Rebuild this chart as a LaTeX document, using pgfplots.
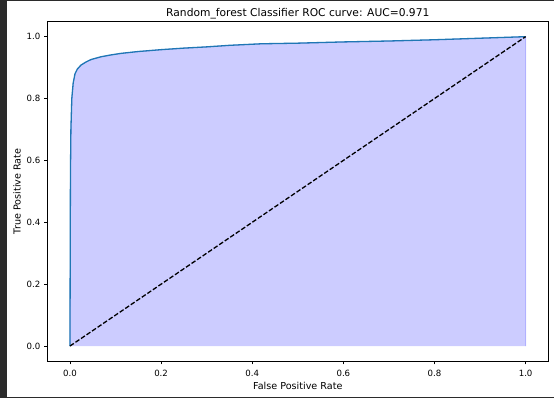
\documentclass[border=0pt]{standalone}
\usepackage{fontspec}
\setmainfont{DejaVu Sans}
\usepackage{pgfplots}
\pgfplotsset{compat=1.18}
\definecolor{mplblue}{HTML}{1F77B4}
\definecolor{darkframe}{HTML}{2B2B2B}
\begin{document}
\begin{tikzpicture}[x=1bp,y=1bp]
\fill[darkframe] (0,0) rectangle (554,398);
\fill[white] (7.3,1.3) rectangle (554,397.2);
\begin{axis}[
  at={(47.2bp,36.5bp)}, anchor=south west,
  scale only axis, width=501.2bp, height=340.3bp,
  xmin=-0.05, xmax=1.05, ymin=-0.05, ymax=1.05,
  axis line style={black, line width=0.67bp},
  tick style={black, line width=0.67bp},
  tick align=outside, major tick length=2.94bp,
  xtick pos=left, ytick pos=left,
  xtick={0,0.2,0.4,0.6,0.8,1.0},
  ytick={0,0.2,0.4,0.6,0.8,1.0},
  xticklabels={0.0,0.2,0.4,0.6,0.8,1.0},
  yticklabels={0.0,0.2,0.4,0.6,0.8,1.0},
  ticklabel style={font=\fontsize{8.6bp}{10bp}\selectfont},
  xticklabel style={inner sep=0pt, yshift=-5bp, anchor=north},
  yticklabel style={inner sep=0pt, xshift=-3.8bp, anchor=east},
  xlabel={False Positive Rate},
  ylabel={True Positive Rate},
  label style={font=\fontsize{9.6bp}{11bp}\selectfont, inner sep=0pt},
  xlabel style={at={(axis description cs:0.5,-0.0717)}, anchor=center},
  ylabel style={at={(axis description cs:-0.0603,0.5)}, anchor=center},
  clip=false,
]
\addplot[draw=blue, draw opacity=0.2, line width=0.84bp, fill=blue, fill opacity=0.2] coordinates {
(0,0) (0.0005,0.3) (0.001,0.55) (0.002,0.7) (0.004,0.8) (0.007,0.85) (0.011,0.88)
(0.016,0.895) (0.024,0.908) (0.035,0.918) (0.046,0.926) (0.068,0.935) (0.09,0.941)
(0.112,0.946) (0.15,0.952) (0.2,0.958) (0.25,0.963) (0.3,0.967) (0.35,0.972)
(0.42,0.977) (0.5,0.979) (0.6,0.983) (0.7,0.986) (0.8,0.99) (0.9,0.995) (1.0,1.0) (1.0,0)
};
\addplot[mplblue, line width=1.3bp] coordinates {
(0,0) (0.0005,0.3) (0.001,0.55) (0.002,0.7) (0.004,0.8) (0.007,0.85) (0.011,0.88)
(0.016,0.895) (0.024,0.908) (0.035,0.918) (0.046,0.926) (0.068,0.935) (0.09,0.941)
(0.112,0.946) (0.15,0.952) (0.2,0.958) (0.25,0.963) (0.3,0.967) (0.35,0.972)
(0.42,0.977) (0.5,0.979) (0.6,0.983) (0.7,0.986) (0.8,0.99) (0.9,0.995) (1.0,1.0)
};
\addplot[black, line width=1.3bp, dash pattern=on 4.66bp off 2.02bp] coordinates {(0,0) (1,1)};
\node[font=\fontsize{10.7bp}{13bp}\selectfont, inner sep=0pt, anchor=center]
  at (axis description cs:0.5,1.0232) {Random\_forest Classifier ROC curve: AUC=0.971};
\end{axis}
\end{tikzpicture}
\end{document}
